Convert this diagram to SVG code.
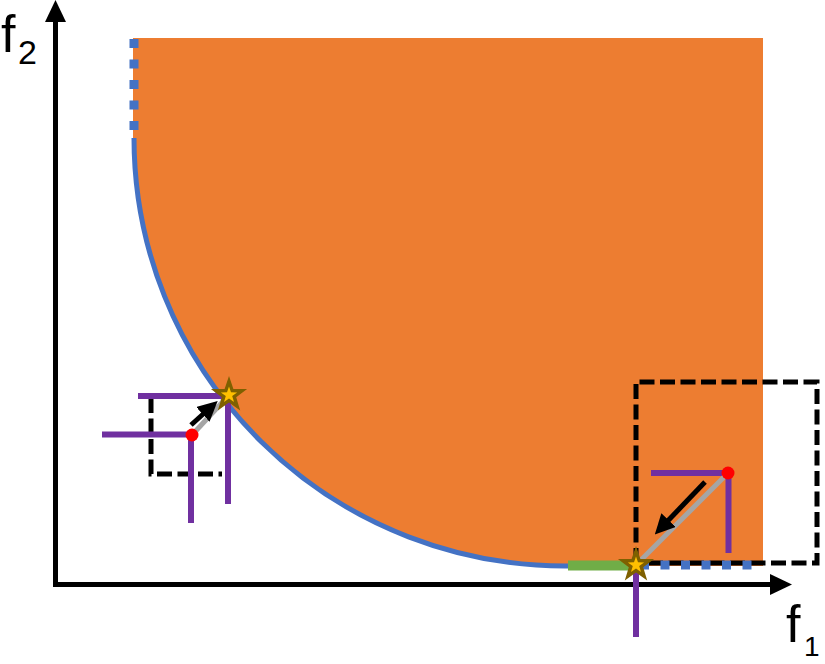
<svg xmlns="http://www.w3.org/2000/svg" width="825" height="664" viewBox="0 0 825 664">
<style>
.purple{stroke:#7030A0;stroke-width:6;fill:none}
.dash{stroke:#000;stroke-width:5;fill:none;stroke-dasharray:15 5.5}
.dot{stroke:#4472C4;stroke-width:9;fill:none;stroke-dasharray:9 11.5}
.gray{stroke:#A5A5A5;stroke-width:5;fill:none}
.arrow{stroke:#000;stroke-width:5;fill:none;marker-end:url(#ah)}
.axis{stroke:#000;stroke-width:5;fill:none}
.lbl{font-family:"Liberation Sans",Arial,sans-serif;fill:#000}
</style>
<defs>
<marker id="ah" markerWidth="4" markerHeight="4" refX="2.2" refY="2" orient="auto" markerUnits="strokeWidth">
<path d="M0,0 L4,2 L0,4 Z" fill="#000"/>
</marker>
<g id="starShape">
<polygon points="0,-19 4.4,-6.1 18.1,-5.9 7.2,2.3 11.2,15.4 0,7.6 -11.2,15.4 -7.2,2.3 -18.1,-5.9 -4.4,-6.1" fill="#7F6000"/>
<polygon points="0,-8.5 2,-2.8 8.1,-2.6 3.2,1 5,6.9 0,3.4 -5,6.9 -3.2,1 -8.1,-2.6 -2,-2.8" fill="#FFC000"/>
</g>
</defs>
<g id="region">
<path d="M133,38 H763 V566 H565 A431 428 0 0 1 133 138 Z" fill="#ED7D31"/>
<path d="M134,138 A431 428 0 0 0 568,566" stroke="#4472C4" stroke-width="5" fill="none"/>
</g>
<g id="axes">
<line class="axis" x1="55.5" y1="587" x2="55.5" y2="18"/>
<polygon points="55.5,0 45,22 66,22" fill="#000"/>
<line class="axis" x1="53" y1="584.5" x2="772" y2="584.5"/>
<polygon points="792,584.5 770,574 770,595" fill="#000"/>
<text class="lbl" x="1" y="52" font-size="52">f</text>
<text class="lbl" x="18" y="64" font-size="34">2</text>
<text class="lbl" x="786" y="642" font-size="52">f</text>
<text class="lbl" x="804" y="656" font-size="28">1</text>
</g>
<g id="connectors">
<path class="dash" d="M151,398 V474 H222"/>
<path class="dash" d="M636,563 V382 H817 V563 H636"/>
<line class="dot" x1="134" y1="39" x2="134" y2="137"/>
<line class="dot" x1="640" y1="565" x2="763" y2="565"/>
<line x1="568" y1="565.5" x2="636" y2="565.5" stroke="#70AD47" stroke-width="10"/>
</g>
<g id="left-point">
<path class="purple" d="M138,396 H229"/>
<path class="purple" d="M228,396 V504"/>
<path class="purple" d="M102,434.5 H192"/>
<path class="purple" d="M191,434.5 V523"/>
<line class="gray" x1="192" y1="435" x2="229" y2="395"/>
<line class="arrow" x1="191" y1="425" x2="211" y2="407"/>
<circle cx="192" cy="435" r="6.5" fill="#FF0000"/>
<use href="#starShape" x="229" y="395"/>
</g>
<g id="right-point">
<path class="purple" d="M651,473 H729"/>
<path class="purple" d="M728.5,473 V553"/>
<path class="purple" d="M636,565 V637"/>
<line class="gray" x1="728" y1="473" x2="636" y2="565"/>
<line class="arrow" x1="705" y1="482" x2="661" y2="528"/>
<circle cx="728" cy="473" r="6.5" fill="#FF0000"/>
<use href="#starShape" x="636" y="565"/>
</g>
</svg>
